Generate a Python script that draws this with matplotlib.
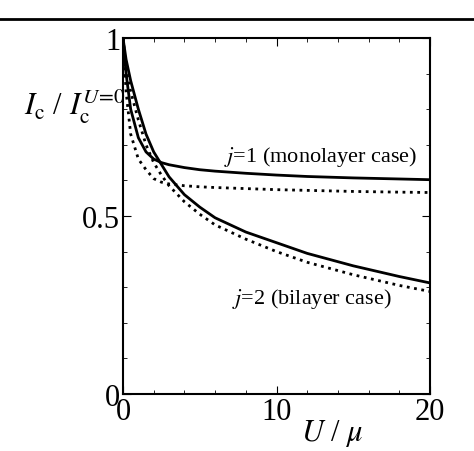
import matplotlib
matplotlib.use("Agg")
import matplotlib.pyplot as plt
from matplotlib.ticker import MultipleLocator

plt.rcParams['font.family'] = ['Liberation Serif', 'DejaVu Serif']
plt.rcParams['mathtext.fontset'] = 'stix'

u1 = [0, 0.2, 0.5, 1, 1.5, 2, 2.5, 3, 4, 5, 6, 8, 10, 12, 15, 18, 20]
j1_solid = [1.0, 0.90, 0.80, 0.72, 0.68, 0.66, 0.650, 0.644, 0.636, 0.630, 0.626, 0.620, 0.615, 0.611, 0.607, 0.604, 0.602]
j1_dot = [1.0, 0.85, 0.73, 0.66, 0.63, 0.605, 0.595, 0.590, 0.585, 0.582, 0.580, 0.577, 0.574, 0.572, 0.569, 0.567, 0.566]
j2_solid = [1.0, 0.94, 0.88, 0.80, 0.73, 0.68, 0.645, 0.61, 0.56, 0.525, 0.495, 0.455, 0.425, 0.395, 0.36, 0.33, 0.312]
j2_dot = [1.0, 0.91, 0.85, 0.77, 0.70, 0.65, 0.615, 0.585, 0.54, 0.505, 0.475, 0.435, 0.40, 0.37, 0.335, 0.305, 0.288]

fig = plt.figure(figsize=(4.74, 4.52), dpi=100)
ax = fig.add_axes([123/474, 1-395/452, 307/474, 356/452])
ax.plot(u1, j1_solid, 'k-', lw=2)
ax.plot(u1, j1_dot, 'k:', lw=2)
ax.plot(u1, j2_solid, 'k-', lw=2)
ax.plot(u1, j2_dot, 'k:', lw=2)
ax.set_xlim(0, 20); ax.set_ylim(0, 1)
ax.set_xticks([0, 10, 20]); ax.set_yticks([0, 0.5, 1])
ax.set_yticklabels(['0', '0.5', '1'])
ax.xaxis.set_minor_locator(MultipleLocator(2))
ax.yaxis.set_minor_locator(MultipleLocator(0.1))
ax.tick_params(which='both', direction='in', top=True, right=True, labelsize=22, pad=2)
ax.tick_params(which='major', length=6)
ax.tick_params(which='minor', length=3)
for s in ax.spines.values():
    s.set_linewidth(1.5)
ax.text(6.6, 0.655, r'$j$=1 (monolayer case)', fontsize=16)
ax.text(7.1, 0.255, r'$j$=2 (bilayer case)', fontsize=16)
fig.text(0.70, 0.025, r'$U$ / $\mu$', fontsize=22, ha='center')
fig.text(0.05, 0.745, r'$I_{\rm c}$ / $I_{\rm c}^{U\!=\!0}$', fontsize=22)
fig.add_artist(plt.Line2D([0, 1], [1-20/452, 1-20/452], color='k', lw=2))
fig.savefig('out.png', dpi=100)
